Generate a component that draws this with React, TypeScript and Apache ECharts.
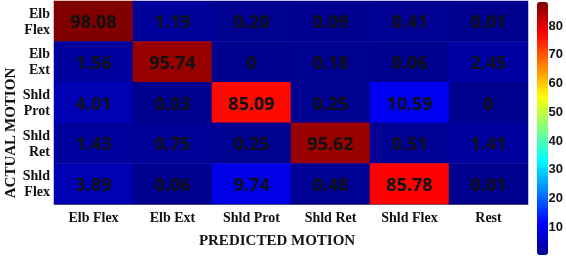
import React, { useEffect, useRef } from "react";
import * as echarts from "echarts";

const predicted = ["Elb Flex", "Elb Ext", "Shld Prot", "Shld Ret", "Shld Flex", "Rest"];
const actual = ["Elb\nFlex", "Elb\nExt", "Shld\nProt", "Shld\nRet", "Shld\nFlex"];
const rowElbFlex = [98.08, 1.19, 0.2, 0.09, 0.41, 0.01];
const rowElbExt = [1.56, 95.74, 0, 0.18, 0.06, 2.45];
const rowShldProt = [4.01, 0.03, 85.09, 0.25, 10.59, 0];
const rowShldRet = [1.43, 0.75, 0.25, 95.62, 0.51, 1.41];
const rowShldFlex = [3.89, 0.06, 9.74, 0.48, 85.78, 0.01];
const colorbarTicks = [10, 20, 30, 40, 50, 60, 70, 80];

const rows = [rowElbFlex, rowElbExt, rowShldProt, rowShldRet, rowShldFlex];
const jet = ["#00008F", "#0000FF", "#0080FF", "#00FFFF", "#80FF80", "#FFFF00", "#FF8000", "#FF0000", "#800000"];

export default function App() {
  const ref = useRef<HTMLDivElement>(null);
  useEffect(() => {
    if (!ref.current) return;
    const chart = echarts.init(ref.current, undefined, { renderer: "svg" });
    const data: [number, number, number][] = [];
    rows.forEach((r, yi) => r.forEach((v, xi) => data.push([xi, yi, v])));
    const serif = "Liberation Serif";
    chart.setOption({
      animation: false,
      grid: [
        { left: 54, top: 1, width: 474, height: 203 },
        { left: 537, top: 2, width: 11, height: 253 },
      ],
      xAxis: [
        {
          type: "category",
          data: predicted,
          gridIndex: 0,
          axisLine: { show: true, lineStyle: { color: "#666", width: 1 } },
          axisTick: { show: false },
          axisLabel: { fontFamily: serif, fontWeight: "bold", fontSize: 14, color: "#111", margin: 6 },
          splitLine: { show: false },
        },
        { type: "value", gridIndex: 1, show: false, min: 0, max: 1 },
      ],
      yAxis: [
        {
          type: "category",
          data: actual,
          inverse: true,
          gridIndex: 0,
          axisLine: { show: true, lineStyle: { color: "#666", width: 1 } },
          axisTick: { show: false },
          axisLabel: { fontFamily: serif, fontWeight: "bold", fontSize: 14, color: "#111", margin: 4, lineHeight: 16, align: "right" },
          splitLine: { show: false },
        },
        {
          type: "value",
          gridIndex: 1,
          position: "right",
          min: 0,
          max: 88,
          interval: 10,
          axisLine: { show: false },
          axisTick: { show: false },
          splitLine: { show: false },
          axisLabel: {
            showMaxLabel: false,
            showMinLabel: false,
            margin: 2,
            fontFamily: "Liberation Sans",
            fontWeight: "bold",
            fontSize: 13,
            color: "#111",
            formatter: (v: number) => (colorbarTicks.includes(v) ? String(v) : ""),
          },
        },
      ],
      visualMap: {
        type: "continuous",
        min: 0,
        max: 98.08,
        calculable: false,
        show: true,
        left: 537,
        top: 2,
        padding: 0,
        itemWidth: 11,
        itemHeight: 253,
        text: ["", ""],
        showLabel: false,
        inRange: { color: jet },
        seriesIndex: 0,
      },
      series: [
        {
          type: "heatmap",
          xAxisIndex: 0,
          yAxisIndex: 0,
          data,
          label: {
            show: true,
            fontFamily: "Open Sans",
            fontWeight: "bold",
            fontSize: 18,
            color: "#111",
            formatter: (p: any) => {
              const v = p.value[2];
              return v === 0 ? "0" : v.toFixed(2);
            },
          },
          itemStyle: { borderWidth: 0 },
        },
      ],
      graphic: [
        {
          type: "text",
          x: 277,
          y: 240,
          style: {
            text: "PREDICTED MOTION",
            font: "bold 15px Liberation Serif",
            fill: "#111",
            textAlign: "center",
            textVerticalAlign: "middle",
          },
        },
        {
          type: "text",
          x: 10,
          y: 133,
          rotation: Math.PI / 2,
          style: {
            text: "ACTUAL MOTION",
            font: "bold 15px Liberation Serif",
            fill: "#111",
            textAlign: "center",
            textVerticalAlign: "middle",
          },
        },
      ],
    });
    return () => chart.dispose();
  }, []);
  return <div ref={ref} style={{ position: "fixed", left: 0, top: 0, width: 566, height: 256 }} />;
}
